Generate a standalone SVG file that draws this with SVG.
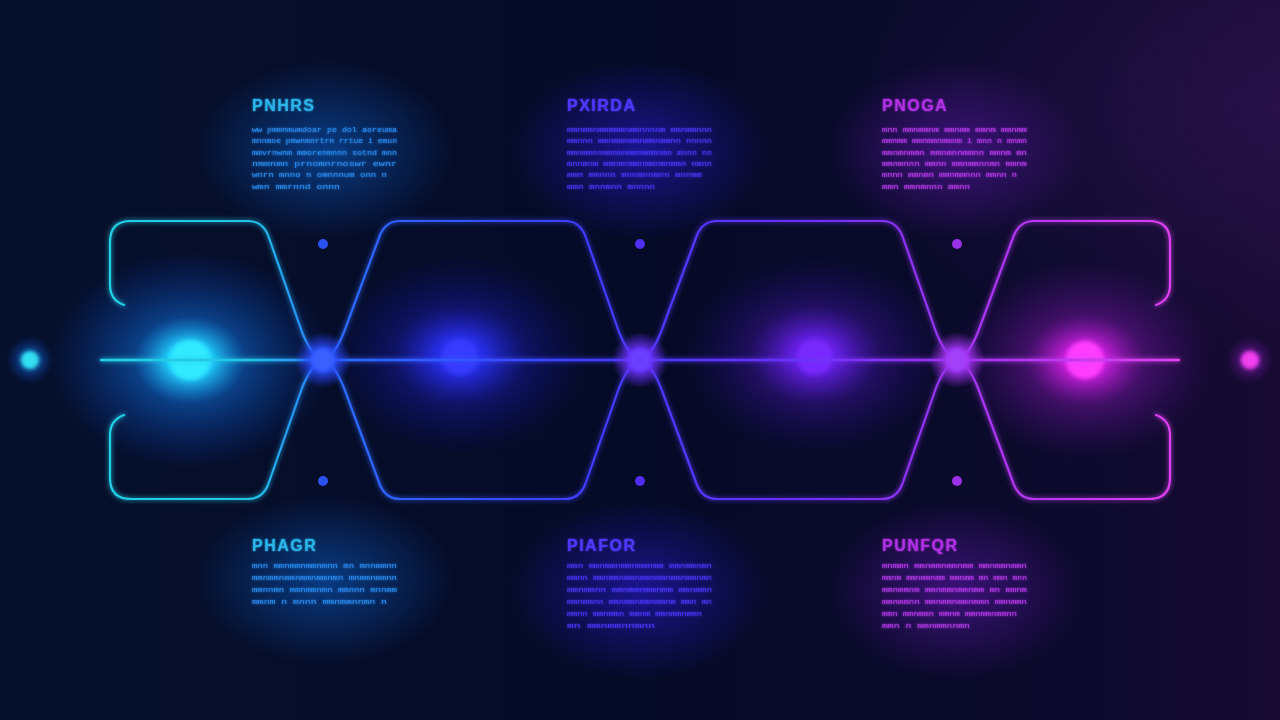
<svg xmlns="http://www.w3.org/2000/svg" width="1280" height="720" viewBox="0 0 1280 720">
<defs>
<linearGradient id="bg" x1="0" y1="0" x2="1" y2="0">
<stop offset="0" stop-color="#06102c"/>
<stop offset="0.5" stop-color="#050a26"/>
<stop offset="0.85" stop-color="#0c0a2c"/>
<stop offset="1" stop-color="#170b32"/>
</linearGradient>
<radialGradient id="bgTR" cx="1" cy="0.15" r="0.35">
<stop offset="0" stop-color="#3a1860" stop-opacity="0.45"/>
<stop offset="1" stop-color="#3a1860" stop-opacity="0"/>
</radialGradient>
<linearGradient id="line" gradientUnits="userSpaceOnUse" x1="100" y1="0" x2="1180" y2="0">
<stop offset="0" stop-color="#22d0e6"/>
<stop offset="0.14" stop-color="#22c4e6"/>
<stop offset="0.22" stop-color="#2a6cff"/>
<stop offset="0.45" stop-color="#3e3cff"/>
<stop offset="0.65" stop-color="#6a30f8"/>
<stop offset="0.85" stop-color="#b236f0"/>
<stop offset="1" stop-color="#e040f0"/>
</linearGradient>
<radialGradient id="gCyan"><stop offset="0" stop-color="#30e8ff"/><stop offset="0.15" stop-color="#20d0ff"/><stop offset="0.4" stop-color="#1070e0" stop-opacity="0.5"/><stop offset="1" stop-color="#0840c0" stop-opacity="0"/></radialGradient>
<radialGradient id="gBlue"><stop offset="0" stop-color="#3040ff"/><stop offset="0.18" stop-color="#2a30f8" stop-opacity="0.9"/><stop offset="0.5" stop-color="#2020d0" stop-opacity="0.35"/><stop offset="1" stop-color="#1010a0" stop-opacity="0"/></radialGradient>
<radialGradient id="gPurp"><stop offset="0" stop-color="#7a2cff"/><stop offset="0.18" stop-color="#6a20f0" stop-opacity="0.9"/><stop offset="0.5" stop-color="#4a18c0" stop-opacity="0.35"/><stop offset="1" stop-color="#3010a0" stop-opacity="0"/></radialGradient>
<radialGradient id="gMag"><stop offset="0" stop-color="#ff40ff"/><stop offset="0.15" stop-color="#e020f0" stop-opacity="0.9"/><stop offset="0.45" stop-color="#9018c0" stop-opacity="0.4"/><stop offset="1" stop-color="#6010a0" stop-opacity="0"/></radialGradient>
<radialGradient id="tCyan"><stop offset="0" stop-color="#0a4aa0" stop-opacity="0.75"/><stop offset="1" stop-color="#0a4aa0" stop-opacity="0"/></radialGradient>
<radialGradient id="tBlue"><stop offset="0" stop-color="#2018b0" stop-opacity="0.75"/><stop offset="1" stop-color="#2018b0" stop-opacity="0"/></radialGradient>
<radialGradient id="tPurp"><stop offset="0" stop-color="#4a1490" stop-opacity="0.75"/><stop offset="1" stop-color="#4a1490" stop-opacity="0"/></radialGradient>
<radialGradient id="jBlue"><stop offset="0" stop-color="#5a80ff"/><stop offset="0.35" stop-color="#2a50ff"/><stop offset="1" stop-color="#2a40ff" stop-opacity="0"/></radialGradient>
<radialGradient id="jPurp"><stop offset="0" stop-color="#9a60ff"/><stop offset="0.35" stop-color="#6a30ff"/><stop offset="1" stop-color="#6a30ff" stop-opacity="0"/></radialGradient>
<radialGradient id="jMag"><stop offset="0" stop-color="#c870ff"/><stop offset="0.35" stop-color="#a030f0"/><stop offset="1" stop-color="#a030f0" stop-opacity="0"/></radialGradient>
<filter id="glow" x="-20%" y="-20%" width="140%" height="140%">
<feGaussianBlur in="SourceGraphic" stdDeviation="2.5" result="b"/>
<feMerge><feMergeNode in="b"/><feMergeNode in="SourceGraphic"/></feMerge>
</filter>
<filter id="soft" x="-50%" y="-50%" width="200%" height="200%"><feGaussianBlur stdDeviation="2"/></filter>
<filter id="tglow" x="-10%" y="-30%" width="120%" height="160%">
<feGaussianBlur in="SourceGraphic" stdDeviation="1.2" result="b"/>
<feMerge><feMergeNode in="b"/><feMergeNode in="SourceGraphic"/></feMerge>
</filter>
</defs>
<style>
.shape{fill:none;stroke:url(#line);stroke-width:2.2;stroke-linecap:round;stroke-linejoin:round}
.title{font-family:"Liberation Sans",Arial,sans-serif;font-size:16px;font-weight:bold;letter-spacing:1.5px}
.body{font-family:"Liberation Mono",monospace;font-size:6.5px}
.c{fill:#2ab4ea}.b{fill:#5038ff}.p{fill:#b030e4}
.cb{fill:#2a8cf0}.bb{fill:#4a36fa}.pb{fill:#b83aec}
</style>
<rect width="1280" height="720" fill="url(#bg)"/>
<rect width="1280" height="720" fill="url(#bgTR)"/>

<g id="text-glows">
<ellipse cx="325" cy="150" rx="130" ry="90" fill="url(#tCyan)"/>
<ellipse cx="640" cy="150" rx="130" ry="90" fill="url(#tBlue)"/>
<ellipse cx="955" cy="150" rx="130" ry="90" fill="url(#tPurp)"/>
<ellipse cx="325" cy="580" rx="130" ry="85" fill="url(#tCyan)"/>
<ellipse cx="640" cy="590" rx="130" ry="90" fill="url(#tBlue)"/>
<ellipse cx="955" cy="590" rx="130" ry="90" fill="url(#tPurp)"/>
</g>

<g id="blobs">
<ellipse cx="190" cy="360" rx="140" ry="110" fill="url(#gCyan)"/>
<ellipse cx="460" cy="355" rx="130" ry="100" fill="url(#gBlue)"/>
<ellipse cx="815" cy="355" rx="130" ry="100" fill="url(#gPurp)"/>
<ellipse cx="1085" cy="360" rx="130" ry="100" fill="url(#gMag)"/>
<circle cx="190" cy="360" r="20" fill="#30eaff" filter="url(#soft)"/>
<circle cx="460" cy="357" r="18" fill="#3a3cff" opacity="0.85" filter="url(#soft)"/>
<circle cx="815" cy="357" r="18" fill="#7a2cff" opacity="0.85" filter="url(#soft)"/>
<circle cx="1085" cy="360" r="19" fill="#ff3cff" filter="url(#soft)"/>
</g>

<g id="connectors" filter="url(#glow)">
<line x1="100" y1="360" x2="1180" y2="360" stroke="url(#line)" stroke-width="2.5"/>
<path class="shape" d="M124 305 Q110 300 110 285 L110 242 Q110 221 131 221 L248 221 Q262 221 268 235 L302 332 Q312 357 323 360"/>
<path class="shape" d="M124 415 Q110 420 110 435 L110 478 Q110 499 131 499 L248 499 Q262 499 268 485 L302 388 Q312 363 323 360"/>
<path class="shape" d="M323 360 Q334 357 344 332 L380 235 Q386 221 400 221 L565 221 Q579 221 585 235 L619 332 Q629 357 640 360"/>
<path class="shape" d="M323 360 Q334 363 344 388 L380 485 Q386 499 400 499 L565 499 Q579 499 585 485 L619 388 Q629 363 640 360"/>
<path class="shape" d="M640 360 Q651 357 661 332 L697 235 Q703 221 717 221 L882 221 Q896 221 902 235 L936 332 Q946 357 957 360"/>
<path class="shape" d="M640 360 Q651 363 661 388 L697 485 Q703 499 717 499 L882 499 Q896 499 902 485 L936 388 Q946 363 957 360"/>
<path class="shape" d="M957 360 Q968 357 978 332 L1014 235 Q1020 221 1034 221 L1149 221 Q1170 221 1170 242 L1170 285 Q1170 300 1156 305"/>
<path class="shape" d="M957 360 Q968 363 978 388 L1014 485 Q1020 499 1034 499 L1149 499 Q1170 499 1170 478 L1170 435 Q1170 420 1156 415"/>
</g>

<g id="end-left">
<circle cx="30" cy="360" r="24" fill="url(#gCyan)"/>
<circle cx="30" cy="360" r="9" fill="#30e0f0" filter="url(#soft)"/>
</g>
<g id="end-right">
<circle cx="1250" cy="360" r="24" fill="url(#gMag)"/>
<circle cx="1250" cy="360" r="9" fill="#f040f0" filter="url(#soft)"/>
</g>

<g id="junction-1">
<circle cx="323" cy="360" r="28" fill="url(#jBlue)"/>
<line x1="323" y1="297" x2="323" y2="425" stroke="#2a58ff" stroke-width="4" stroke-linecap="round" filter="url(#glow)"/>
<circle cx="323" cy="360" r="11" fill="#3a60ff" filter="url(#soft)"/>
<circle cx="323" cy="244" r="5" fill="#2a50f0"/>
<circle cx="323" cy="481" r="5" fill="#2a50f0"/>
</g>
<g id="junction-2">
<circle cx="640" cy="360" r="28" fill="url(#jPurp)"/>
<line x1="640" y1="297" x2="640" y2="425" stroke="#5a34ff" stroke-width="4" stroke-linecap="round" filter="url(#glow)"/>
<circle cx="640" cy="360" r="11" fill="#6a40ff" filter="url(#soft)"/>
<circle cx="640" cy="244" r="5" fill="#5030f0"/>
<circle cx="640" cy="481" r="5" fill="#5030f0"/>
</g>
<g id="junction-3">
<circle cx="957" cy="360" r="28" fill="url(#jMag)"/>
<line x1="957" y1="297" x2="957" y2="425" stroke="#9a34f0" stroke-width="4" stroke-linecap="round" filter="url(#glow)"/>
<circle cx="957" cy="360" r="11" fill="#a040f8" filter="url(#soft)"/>
<circle cx="957" cy="244" r="5" fill="#9a30e8"/>
<circle cx="957" cy="481" r="5" fill="#9a30e8"/>
</g>

<g id="block-top-1" filter="url(#tglow)">
<text class="title c" x="252" y="111">PNHRS</text>
<g class="body cb">
<text x="252" y="132" textLength="145" lengthAdjust="spacingAndGlyphs">ww pmmnmumdoar pe dol aoreuma</text>
<text x="252" y="143" textLength="145" lengthAdjust="spacingAndGlyphs">mnnmoe pmwnmnrtrn rrtue i emun</text>
<text x="252" y="155" textLength="145" lengthAdjust="spacingAndGlyphs">mmvrnwnm mmorenmnnn sotnd mnn</text>
<text x="252" y="166" textLength="145" lengthAdjust="spacingAndGlyphs">nmmnmn prnomnrnoswr ewnr</text>
<text x="252" y="177" textLength="135" lengthAdjust="spacingAndGlyphs">wnrn mnno n omnnnum onn n</text>
<text x="252" y="189" textLength="88" lengthAdjust="spacingAndGlyphs">wmn mmrnnd onnn</text>
</g>
</g>
<g id="block-top-2" filter="url(#tglow)">
<text class="title b" x="567" y="111">PXIRDA</text>
<g class="body bb">
<text x="567" y="132" textLength="145" lengthAdjust="spacingAndGlyphs">mmnmmnmmmmmnmmnnnnm mmnmmnnn</text>
<text x="567" y="143" textLength="145" lengthAdjust="spacingAndGlyphs">mmnnn mmnmmnmmnmmnmmnn nnnnn</text>
<text x="567" y="155" textLength="145" lengthAdjust="spacingAndGlyphs">mmnmmnnmmnmnmmnmmmnmn mnnn nn</text>
<text x="567" y="166" textLength="145" lengthAdjust="spacingAndGlyphs">mnnmnm mmnmnmmnmmnmnmmn nmnn</text>
<text x="567" y="177" textLength="135" lengthAdjust="spacingAndGlyphs">mmn mmnnn mnnmnnmnn mnnmm</text>
<text x="567" y="189" textLength="88" lengthAdjust="spacingAndGlyphs">mmn mnnmnn mnnnn</text>
</g>
</g>
<g id="block-top-3" filter="url(#tglow)">
<text class="title p" x="882" y="111">PNOGA</text>
<g class="body pb">
<text x="882" y="132" textLength="145" lengthAdjust="spacingAndGlyphs">mnn mmnmmnm mmnmm mmnm mmnmm</text>
<text x="882" y="143" textLength="145" lengthAdjust="spacingAndGlyphs">mmnmm mmnmmnmmnm i mnn n mnmn</text>
<text x="882" y="155" textLength="145" lengthAdjust="spacingAndGlyphs">mmnmnmmn mmnmnnmmnn mmnm mn</text>
<text x="882" y="166" textLength="145" lengthAdjust="spacingAndGlyphs">mmnmnnn mmnn mmnmmnnmn mmnm</text>
<text x="882" y="177" textLength="135" lengthAdjust="spacingAndGlyphs">mnnn mmnmn mmnmmnnn mmnn n</text>
<text x="882" y="189" textLength="88" lengthAdjust="spacingAndGlyphs">mmn mmnmnnn mmnn</text>
</g>
</g>
<g id="block-bottom-1" filter="url(#tglow)">
<text class="title c" x="252" y="551">PHAGR</text>
<g class="body cb">
<text x="252" y="568" textLength="145" lengthAdjust="spacingAndGlyphs">mnn mmnmmnmmnmnn mn mnnmmnn</text>
<text x="252" y="580" textLength="145" lengthAdjust="spacingAndGlyphs">mmnmmnmmnmmnmmnmn mnmmnmmnn</text>
<text x="252" y="592" textLength="145" lengthAdjust="spacingAndGlyphs">mmnnmn mmnmmnmn mmnnn mnnmm</text>
<text x="252" y="604" textLength="135" lengthAdjust="spacingAndGlyphs">mmnm n mnnn mmnmmnnmn n</text>
</g>
</g>
<g id="block-bottom-2" filter="url(#tglow)">
<text class="title b" x="567" y="551">PIAFOR</text>
<g class="body bb">
<text x="567" y="568" textLength="145" lengthAdjust="spacingAndGlyphs">mmn mmnmmnmmnmmnmm mmnmmnmn</text>
<text x="567" y="580" textLength="145" lengthAdjust="spacingAndGlyphs">mmnn mmnmmnmmnmmnmmnmmnmmnmn</text>
<text x="567" y="592" textLength="145" lengthAdjust="spacingAndGlyphs">mmnmmnn mmnmmnmmnmm mmnmmn</text>
<text x="567" y="604" textLength="145" lengthAdjust="spacingAndGlyphs">mmnmmnn mmnmmnmmnmmnm mmn mn</text>
<text x="567" y="616" textLength="135" lengthAdjust="spacingAndGlyphs">mmnn mmnmmn mmnm mmnmmnmmn</text>
<text x="567" y="628" textLength="88" lengthAdjust="spacingAndGlyphs">mn mmnmmnnmnn</text>
</g>
</g>
<g id="block-bottom-3" filter="url(#tglow)">
<text class="title p" x="882" y="551">PUNFQR</text>
<g class="body pb">
<text x="882" y="568" textLength="145" lengthAdjust="spacingAndGlyphs">mnmmn mmnmmnmmnmm mmnmmnmmn</text>
<text x="882" y="580" textLength="145" lengthAdjust="spacingAndGlyphs">mmnm mmnmmnmm mmnmm mn mmn mnn</text>
<text x="882" y="592" textLength="145" lengthAdjust="spacingAndGlyphs">mmnmmnm mmnmmnmmnmm mn mmnm</text>
<text x="882" y="604" textLength="145" lengthAdjust="spacingAndGlyphs">mmnmmnn mmnmmnmmnmmn mmnmmn</text>
<text x="882" y="616" textLength="135" lengthAdjust="spacingAndGlyphs">mmn mmnmmn mmnm mmnmmnmmnn</text>
<text x="882" y="628" textLength="88" lengthAdjust="spacingAndGlyphs">mmn n mmnmmnnmn</text>
</g>
</g>
</svg>
